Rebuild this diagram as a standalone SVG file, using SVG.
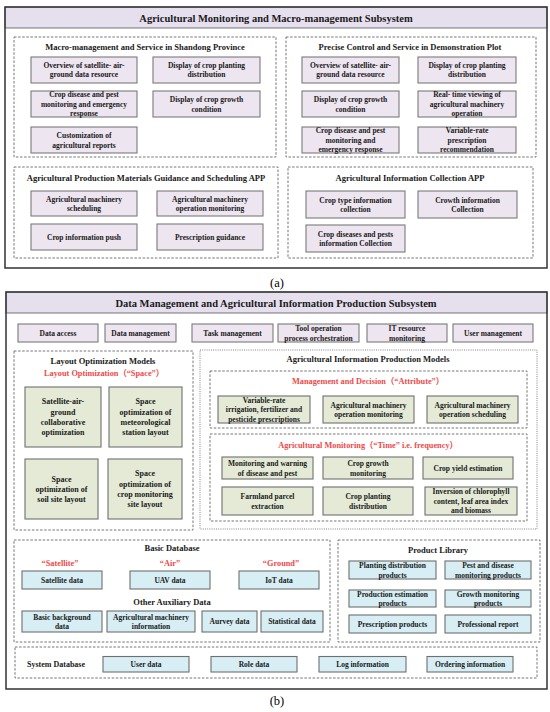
<svg xmlns="http://www.w3.org/2000/svg" width="550" height="712" viewBox="0 0 550 712">
<style>
.bg{fill:#ffffff}
.outer{fill:none;stroke:#333;stroke-width:1.5}
.band{fill:#E6DFEE;stroke:#555;stroke-width:0.8}
.sec{fill:none;stroke:#666;stroke-width:0.9;stroke-dasharray:2.5 1.6}
.dot{fill:none;stroke:#777;stroke-width:0.9;stroke-dasharray:1 1.2}
.lv{fill:#EDE5F0;stroke:#7a7a7a;stroke-width:1.1}
.gr{fill:#E4EAD6;stroke:#6f6f6f;stroke-width:1.1}
.bl{fill:#D6EEF4;stroke:#6f6f6f;stroke-width:1.1}
text{font-family:"Liberation Serif","Times New Roman","Noto Sans CJK SC",serif;font-weight:bold;fill:#1a1a1a;text-anchor:middle}
.t{font-size:7.5px}
.tg{font-size:8px}
.h{font-size:10.5px}
.s{font-size:8.5px}
.r{font-size:8.3px;fill:#F04848}
.cap{font-size:12.5px;font-weight:normal;fill:#000}
</style>
<rect class="bg" x="0" y="0" width="550" height="712"/>
<g id="connectors"/>

<!-- Panel (a) -->
<g id="panel-a">
<rect class="band" x="5" y="7" width="542" height="21"/>
<rect class="outer" x="5" y="7" width="542" height="261"/>
<text class="h" x="276" y="21.5">Agricultural Monitoring and Macro-management Subsystem</text>
</g>

<g id="sec-shandong">
<rect class="sec" x="14" y="37" width="262" height="120"/>
<text class="s" x="145" y="50">Macro-management and Service in Shandong Province</text>
</g>
<g id="a1"><rect class="lv" x="31" y="57" width="106" height="26"/><text class="t" x="84" y="67.9">Overview of satellite- air-<tspan x="84" y="77.4">ground data resource</tspan></text></g>
<g id="a2"><rect class="lv" x="153" y="57" width="107" height="26"/><text class="t" x="206.5" y="67.9">Display of crop planting<tspan x="206.5" y="77.4">distribution</tspan></text></g>
<g id="a3"><rect class="lv" x="31" y="91" width="106" height="26"/><text class="t" x="84" y="97.2">Crop disease and pest<tspan x="84" y="106.7">monitoring and emergency</tspan><tspan x="84" y="116.2">response</tspan></text></g>
<g id="a4"><rect class="lv" x="153" y="91" width="107" height="26"/><text class="t" x="206.5" y="102">Display of crop growth<tspan x="206.5" y="111.5">condition</tspan></text></g>
<g id="a5"><rect class="lv" x="31" y="127" width="106" height="26"/><text class="t" x="84" y="138">Customization of<tspan x="84" y="147.5">agricultural reports</tspan></text></g>

<g id="sec-demo">
<rect class="sec" x="286" y="37" width="250" height="120"/>
<text class="s" x="410" y="50">Precise Control and Service in Demonstration Plot</text>
</g>
<g id="b1"><rect class="lv" x="302" y="57" width="97" height="26"/><text class="t" x="350.5" y="67.9">Overview of satellite- air-<tspan x="350.5" y="77.4">ground data resource</tspan></text></g>
<g id="b2"><rect class="lv" x="418" y="57" width="98" height="26"/><text class="t" x="467" y="67.9">Display of crop planting<tspan x="467" y="77.4">distribution</tspan></text></g>
<g id="b3"><rect class="lv" x="302" y="91" width="97" height="26"/><text class="t" x="350.5" y="102">Display of crop growth<tspan x="350.5" y="111.5">condition</tspan></text></g>
<g id="b4"><rect class="lv" x="418" y="91" width="98" height="26"/><text class="t" x="467" y="97.2">Real- time viewing of<tspan x="467" y="106.7">agricultural machinery</tspan><tspan x="467" y="116.2">operation</tspan></text></g>
<g id="b5"><rect class="lv" x="302" y="127" width="97" height="26"/><text class="t" x="350.5" y="133.2">Crop disease and pest<tspan x="350.5" y="142.7">monitoring and</tspan><tspan x="350.5" y="152.2">emergency response</tspan></text></g>
<g id="b6"><rect class="lv" x="418" y="127" width="98" height="26"/><text class="t" x="467" y="133.2">Variable-rate<tspan x="467" y="142.7">prescription</tspan><tspan x="467" y="152.2">recommendation</tspan></text></g>

<g id="sec-app1">
<rect class="sec" x="14" y="167" width="264" height="91"/>
<text class="s" x="146" y="181">Agricultural Production Materials Guidance and Scheduling APP</text>
</g>
<g id="c1"><rect class="lv" x="31" y="191" width="106" height="25"/><text class="t" x="84" y="201.5">Agricultural machinery<tspan x="84" y="211">scheduling</tspan></text></g>
<g id="c2"><rect class="lv" x="157" y="191" width="106" height="25"/><text class="t" x="210" y="201.5">Agricultural machinery<tspan x="210" y="211">operation monitoring</tspan></text></g>
<g id="c3"><rect class="lv" x="31" y="224" width="106" height="26"/><text class="t" x="84" y="239.7">Crop information push</text></g>
<g id="c4"><rect class="lv" x="157" y="224" width="106" height="26"/><text class="t" x="210" y="239.7">Prescription guidance</text></g>

<g id="sec-app2">
<rect class="sec" x="288" y="167" width="245" height="91"/>
<text class="s" x="410" y="181">Agricultural Information Collection APP</text>
</g>
<g id="d1"><rect class="lv" x="306" y="191" width="99" height="27"/><text class="t" x="355.5" y="202.5">Crop type information<tspan x="355.5" y="212">collection</tspan></text></g>
<g id="d2"><rect class="lv" x="418" y="191" width="99" height="27"/><text class="t" x="467.5" y="202.5">Crowth  information<tspan x="467.5" y="212">Collection</tspan></text></g>
<g id="d3"><rect class="lv" x="306" y="225" width="99" height="27"/><text class="t" x="355.5" y="236.5">Crop diseases and  pests<tspan x="355.5" y="246">information Collection</tspan></text></g>

<text class="cap" x="277" y="287">(a)</text>

<!-- Panel (b) -->
<g id="panel-b">
<rect class="band" x="6" y="292" width="541" height="21"/>
<rect class="outer" x="6" y="292" width="541" height="397"/>
<text class="h" x="276" y="306.5">Data Management and Agricultural Information Production Subsystem</text>
</g>

<g id="e1"><rect class="lv" x="18" y="324" width="80" height="18"/><text class="t" x="58" y="335.7">Data access</text></g>
<g id="e2"><rect class="lv" x="105" y="324" width="71" height="18"/><text class="t" x="140.5" y="335.7">Data management</text></g>
<g id="e3"><rect class="lv" x="192" y="324" width="81" height="18"/><text class="t" x="232.5" y="335.7">Task management</text></g>
<g id="e4"><rect class="lv" x="278" y="324" width="81" height="18"/><text class="t" x="318.5" y="331">Tool operation<tspan x="318.5" y="340.5">process orchestration</tspan></text></g>
<g id="e5"><rect class="lv" x="367" y="324" width="80" height="18"/><text class="t" x="407" y="331">IT resource<tspan x="407" y="340.5">monitoring</tspan></text></g>
<g id="e6"><rect class="lv" x="453" y="324" width="80" height="18"/><text class="t" x="493" y="335.7">User management</text></g>

<g id="sec-layout">
<rect class="sec" x="14" y="351" width="179" height="179"/>
<text class="s" x="103" y="364">Layout Optimization Models</text>
<text class="r" x="104" y="376">Layout Optimization（“Space”）</text>
</g>
<g id="f1"><rect class="gr" x="25" y="387" width="76" height="60"/><text class="tg" x="63" y="404.3">Satellite-air-<tspan x="63" y="414.6">ground</tspan><tspan x="63" y="424.9">collaborative</tspan><tspan x="63" y="435.2">optimization</tspan></text></g>
<g id="f2"><rect class="gr" x="109" y="387" width="73" height="60"/><text class="tg" x="145.5" y="404.3">Space<tspan x="145.5" y="414.6">optimization of</tspan><tspan x="145.5" y="424.9">meteorological</tspan><tspan x="145.5" y="435.2">station layout</tspan></text></g>
<g id="f3"><rect class="gr" x="25" y="459" width="73" height="60"/><text class="tg" x="61.5" y="481.5">Space<tspan x="61.5" y="491.8">optimization of</tspan><tspan x="61.5" y="502.1">soil site layout</tspan></text></g>
<g id="f4"><rect class="gr" x="108" y="459" width="74" height="60"/><text class="tg" x="145" y="476.3">Space<tspan x="145" y="486.6">optimization of</tspan><tspan x="145" y="496.9">crop monitoring</tspan><tspan x="145" y="507.2">site layout</tspan></text></g>

<g id="sec-aipm">
<rect class="dot" x="200" y="350" width="337" height="179"/>
<text class="s" x="368" y="362">Agricultural Information Production Models</text>
</g>
<g id="sec-mgmt">
<rect class="sec" x="210" y="371" width="317" height="57"/>
<text class="r" x="368" y="384">Management and Decision（“Attribute”）</text>
</g>
<g id="g1"><rect class="gr" x="218" y="396" width="92" height="27"/><text class="t" x="264" y="402.7">Variable-rate<tspan x="264" y="412.2">irrigation, fertilizer and</tspan><tspan x="264" y="421.7">pesticide prescriptions</tspan></text></g>
<g id="g2"><rect class="gr" x="323" y="396" width="91" height="27"/><text class="t" x="368.5" y="407.5">Agricultural machinery<tspan x="368.5" y="417">operation monitoring</tspan></text></g>
<g id="g3"><rect class="gr" x="427" y="396" width="91" height="27"/><text class="t" x="472.5" y="407.5">Agricultural machinery<tspan x="472.5" y="417">operation scheduling</tspan></text></g>

<g id="sec-mon">
<rect class="sec" x="210" y="434" width="317" height="87"/>
<text class="r" x="368" y="448">Agricultural Monitoring（“Time” i.e. frequency）</text>
</g>
<g id="h1"><rect class="gr" x="222" y="457" width="91" height="22"/><text class="t" x="267.5" y="466">Monitoring and warning<tspan x="267.5" y="475.5">of disease and pest</tspan></text></g>
<g id="h2"><rect class="gr" x="323" y="457" width="90" height="22"/><text class="t" x="368" y="466">Crop growth<tspan x="368" y="475.5">monitoring</tspan></text></g>
<g id="h3"><rect class="gr" x="423" y="457" width="90" height="22"/><text class="t" x="468" y="470.7">Crop yield estimation</text></g>
<g id="h4"><rect class="gr" x="222" y="487" width="91" height="28"/><text class="t" x="267.5" y="499">Farmland parcel<tspan x="267.5" y="508.5">extraction</tspan></text></g>
<g id="h5"><rect class="gr" x="323" y="487" width="90" height="28"/><text class="t" x="368" y="499">Crop planting<tspan x="368" y="508.5">distribution</tspan></text></g>
<g id="h6"><rect class="gr" x="425" y="487" width="92" height="28"/><text class="t" x="471" y="494.2">Inversion of chlorophyll<tspan x="471" y="503.7">content, leaf area index</tspan><tspan x="471" y="513.2">and biomass</tspan></text></g>

<g id="sec-basic">
<rect class="sec" x="14" y="540" width="316" height="102"/>
<text class="s" x="172" y="551">Basic Database</text>
<text class="r" x="60" y="566">“Satellite”</text>
<text class="r" x="170" y="566">“Air”</text>
<text class="r" x="281" y="566">“Ground”</text>
<text class="s" x="172" y="605">Other Auxiliary Data</text>
</g>
<g id="i1"><rect class="bl" x="22" y="571" width="80" height="18"/><text class="t" x="62" y="582.7">Satellite data</text></g>
<g id="i2"><rect class="bl" x="130" y="571" width="80" height="18"/><text class="t" x="170" y="582.7">UAV data</text></g>
<g id="i3"><rect class="bl" x="239" y="571" width="80" height="18"/><text class="t" x="279" y="582.7">IoT data</text></g>
<g id="j1"><rect class="bl" x="22" y="611" width="80" height="21"/><text class="t" x="62" y="619.5">Basic background<tspan x="62" y="629">data</tspan></text></g>
<g id="j2"><rect class="bl" x="107" y="611" width="88" height="21"/><text class="t" x="151" y="619.5">Agricultural machinery<tspan x="151" y="629">information</tspan></text></g>
<g id="j3"><rect class="bl" x="202" y="611" width="55" height="21"/><text class="t" x="229.5" y="624.2">Aurvey data</text></g>
<g id="j4"><rect class="bl" x="261" y="611" width="62" height="21"/><text class="t" x="292" y="624.2">Statistical data</text></g>

<g id="sec-product">
<rect class="sec" x="338" y="540" width="202" height="102"/>
<text class="s" x="438" y="553">Product Library</text>
</g>
<g id="k1"><rect class="bl" x="349" y="561" width="87" height="18"/><text class="t" x="392.5" y="568">Planting distribution<tspan x="392.5" y="577.5">products</tspan></text></g>
<g id="k2"><rect class="bl" x="445" y="561" width="86" height="18"/><text class="t" x="488" y="568">Pest and disease<tspan x="488" y="577.5">monitoring products</tspan></text></g>
<g id="k3"><rect class="bl" x="349" y="590" width="87" height="17"/><text class="t" x="392.5" y="596.5">Production estimation<tspan x="392.5" y="606">products</tspan></text></g>
<g id="k4"><rect class="bl" x="445" y="590" width="86" height="17"/><text class="t" x="488" y="596.5">Growth monitoring<tspan x="488" y="606">products</tspan></text></g>
<g id="k5"><rect class="bl" x="349" y="615" width="87" height="18"/><text class="t" x="392.5" y="626.7">Prescription products</text></g>
<g id="k6"><rect class="bl" x="445" y="615" width="86" height="18"/><text class="t" x="488" y="626.7">Professional report</text></g>

<g id="sec-system">
<rect class="sec" x="15" y="647" width="522" height="31"/>
<text class="s" x="27" y="666.5" style="text-anchor:start;font-size:8px">System Database</text>
</g>
<g id="l1"><rect class="bl" x="103" y="656.5" width="86" height="15.5"/><text class="t" x="146" y="667">User data</text></g>
<g id="l2"><rect class="bl" x="211" y="656.5" width="86" height="15.5"/><text class="t" x="254" y="667">Role data</text></g>
<g id="l3"><rect class="bl" x="319" y="656.5" width="87" height="15.5"/><text class="t" x="362.5" y="667">Log information</text></g>
<g id="l4"><rect class="bl" x="427" y="656.5" width="86" height="15.5"/><text class="t" x="470" y="667">Ordering information</text></g>

<text class="cap" x="277" y="705">(b)</text>
</svg>
